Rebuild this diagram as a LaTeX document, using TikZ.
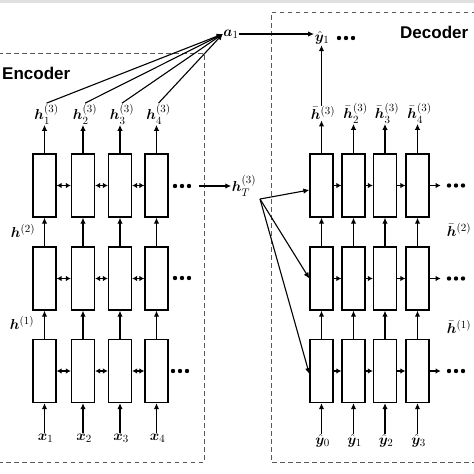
\documentclass[tikz,border=0pt]{standalone}
\usepackage{amsmath,bm}
\usepackage{fontspec}
\newfontfamily\headfont{Liberation Sans}
\usetikzlibrary{arrows.meta}
\begin{document}
\begin{tikzpicture}[x=1pt,y=-1pt,
  cell/.style={draw,line width=1.3pt,minimum width=23pt,minimum height=63pt,inner sep=0pt},
  arr/.style={-{Latex[length=6pt,width=5.5pt]},line width=1.3pt},
  sarr/.style={-{Latex[length=5pt,width=5.5pt]},line width=1.3pt},
  darr/.style={{Latex[length=5pt,width=5.5pt]}-{Latex[length=5pt,width=5.5pt]},line width=1.3pt},
  lab/.style={font=\fontsize{15}{18}\selectfont,inner sep=0.5pt},
  frame/.style={dash pattern=on 4.5pt off 3.5pt,line width=0.9pt,draw=black!65},
  ttl/.style={font=\headfont\bfseries\fontsize{17}{20}\selectfont,inner sep=0pt},
  dot/.style={fill=black,radius=2.2pt}
]
\useasboundingbox (0,0) rectangle (474,474);
\fill[black!12] (0,0) rectangle (474,3);
% frames
\draw[frame] (-2,53) -- (204,53) -- (204,462) -- (-2,462);
\draw[frame] (476,12) -- (271,12) -- (271,462) -- (476,462);
\node[ttl,anchor=west] (enc) at (2,73) {Encoder};
\node[ttl,anchor=west] (dec) at (400,32) {Decoder};
% encoder
\foreach \i/\x in {1/44.5,2/83,3/120,4/156.5}{
  \node[cell] (e3\i) at (\x,185.5) {};
  \node[cell] (e2\i) at (\x,278.5) {};
  \node[cell] (e1\i) at (\x,371) {};
  \node[lab] (x\i) at (\x+1,438) {$\bm{x}_{\i}$};
  \node[lab] (h\i) at (\x+2,114) {$\bm{h}_{\i}^{(3)}$};
  \draw[arr] (x\i.north -| e1\i) -- (e1\i);
  \draw[arr] (e1\i) -- (e2\i);
  \draw[arr] (e2\i) -- (e3\i);
  \draw[arr] (e3\i) -- (e3\i |- h\i.south);
}
\foreach \i/\j in {1/2,2/3,3/4}{
  \foreach \r in {1,2,3}{
    \draw[darr] (e\r\i.east) -- (e\r\j.west);
  }
}
\foreach \y/\s in {186/175,278/175,371/173}{
  \fill[dot] (\s,\y) circle; \fill[dot] (\s+7,\y) circle; \fill[dot] (\s+14,\y) circle;
}
\node[lab] (h2l) at (23,231) {$\bm{h}^{(2)}$};
\node[lab] (h1l) at (22,323) {$\bm{h}^{(1)}$};
% attention
\node[lab] (a) at (231,34) {$\bm{a}_1$};
\foreach \i in {1,2,3,4}{
  \draw[arr,line width=1.1pt] (h\i.north) -- (a.west);
}
\node[lab] (y1) at (322,38) {$\hat{\bm{y}}_1$};
\draw[arr] (a.east) -- (a.east -| y1.west);
\fill[dot] (339,38) circle; \fill[dot] (346,38) circle; \fill[dot] (353,38) circle;
% encoder output
\coordinate (eo) at (199,186);
\node[lab] (hT) at (244,186) {$\bm{h}_T^{(3)}$};
\draw[arr] (eo) -- (hT.west);
% decoder
\foreach \i/\x/\k in {1/321.5/0,2/353.5/1,3/385/2,4/417.5/3}{
  \node[cell] (d3\i) at (\x,185.5) {};
  \node[cell] (d2\i) at (\x,278.5) {};
  \node[cell] (d1\i) at (\x,371) {};
  \node[lab] (yb\i) at (\x+1,441) {$\hat{\bm{y}}_{\k}$};
  \draw[arr] (yb\i.north -| d1\i) -- (d1\i);
  \draw[arr] (d1\i) -- (d2\i);
  \draw[arr] (d2\i) -- (d3\i);
}
\node[lab] (g1) at (323,113) {$\bar{\bm{h}}^{(3)}$};
\foreach \i/\x in {2/353.5,3/385,4/417.5}{
  \node[lab] (g\i) at (\x+2,113) {$\bar{\bm{h}}_{\i}^{(3)}$};
}
\foreach \i in {1,2,3,4}{
  \draw[arr] (d3\i) -- (d3\i |- g\i.south);
}
\draw[arr] (g1.north -| d31) -- (y1.south -| d31);
\foreach \i/\j in {1/2,2/3,3/4}{
  \foreach \r in {1,2,3}{
    \draw[sarr] (d\r\i.east) -- (d\r\j.west);
  }
}
\foreach \r/\y in {3/185.5,2/278.5,1/371}{
  \draw[sarr] (d\r4.east) -- ++(11,0);
  \fill[dot] (449,\y) circle; \fill[dot] (456,\y) circle; \fill[dot] (463,\y) circle;
}
\node[lab] (g2l) at (459,230) {$\bar{\bm{h}}^{(2)}$};
\node[lab] (g1l) at (459,327) {$\bar{\bm{h}}^{(1)}$};
% context to decoder
\coordinate (hs) at (260,199);
\draw[arr,line width=1.1pt] (hs) -- ([yshift=-4.5pt]d31.west);
\draw[arr,line width=1.1pt] (hs) -- (d21.west);
\draw[arr,line width=1.1pt] (hs) -- ([yshift=-3pt]d11.west);
\end{tikzpicture}
\end{document}
